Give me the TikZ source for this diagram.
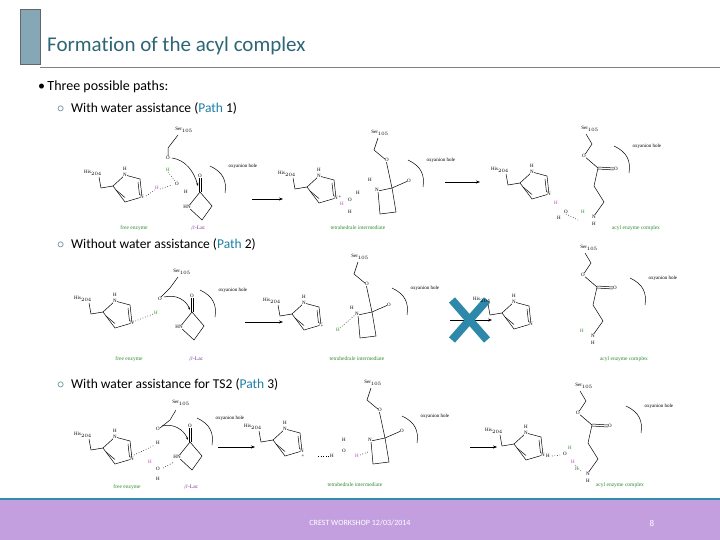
\documentclass[tikz,border=0pt]{standalone}
\usepackage{fontspec}
\setmainfont[Ligatures=NoCommon]{Carlito}
\newfontfamily\chem{Liberation Serif}
\usetikzlibrary{arrows.meta}
\definecolor{titlec}{HTML}{2E6676}
\definecolor{pathc}{HTML}{1F7FA6}
\definecolor{barc}{HTML}{86A8B6}
\definecolor{foot}{HTML}{C39FE0}
\definecolor{footline}{HTML}{2E8FA8}
\definecolor{grn}{HTML}{2E8B2E}
\definecolor{pur}{HTML}{7A2E9A}
\definecolor{pnk}{HTML}{C040C0}
\definecolor{xblue}{HTML}{2E88AA}
\tikzset{
 lbl/.style={font=\chem\fontsize{5}{5}\selectfont,inner sep=0.5pt,fill=white},
 captxt/.style={font=\chem\fontsize{5.5}{6}\selectfont,inner sep=0.5pt},
 bond/.style={line width=0.5pt},
 hb/.style={dotted,line width=0.6pt},
 rarrow/.style={-{Stealth[length=4pt]},line width=0.7pt},
 sub/.style={font=\fontsize{13.5}{15}\selectfont,anchor=base west,inner sep=0},
}
\newcommand\Imid[3]{%
 \begin{scope}[shift={(#1,#2)},bond]
 \draw (-14,-9)--(-12,2)--(0,0);
 \draw (0,0)--(12,-11)--(27,-7)--(29,11)--(12,16)--cycle;
 \draw (3,4)--(12,11.5);
 \draw (25,-4)--(26.5,9);
 \node[lbl,fill=none] at (-20,-13) {His$_{\scriptscriptstyle #3}$};
 \node[lbl] at (12,-11) {N};
 \node[lbl,fill=none] at (12,-17) {H};
 \node[lbl] at (29,11) {N};
 \end{scope}}
\newcommand\Lactam[2]{%
 \begin{scope}[shift={(#1,#2)},bond]
 \draw (0,0)--(12,14)--(2,28)--(-12,15)--cycle;
 \draw (-1,0)--(-1,-14) (1,0)--(1,-14);
 \node[lbl] at (0,-16) {O};
 \node[lbl] at (-13,15) {HN};
 \end{scope}}
\newcommand\Tetra[3]{%
 \begin{scope}[shift={(#1,#2)},bond]
 \draw (-14,-50)--(-18,-38)--(-6,-28)--(0,0);
 \draw (0,0)--(16,-7);
 \draw (0,0)--(4,24)--(-12,26)--(-14,3)--cycle;
 \node[lbl] at (-5,-28) {O};
 \node[lbl] at (17,-7) {O};
 \node[lbl] at (-15,2) {N};
 \node[lbl,fill=none] at (-12,-55) {Ser$_{\scriptscriptstyle #3}$};
 \end{scope}}
\newcommand\Acyl[3]{%
 \begin{scope}[shift={(#1,#2)},bond]
 \draw (-12,-38)--(-6,-28)--(-14,-16)--(0,-4);
 \draw (0,-5)--(16,-4) (0,-3)--(16,-2);
 \draw (0,-4)--(-4,14)--(6,30)--(-4,44);
 \node[lbl] at (-14,-16) {O};
 \node[lbl] at (18,-3) {O};
 \node[lbl] at (-4,45) {N};
 \node[lbl,fill=none] at (-4,52) {H};
 \node[lbl,fill=none,text=grn] at (-15,40) {H};
 \node[lbl,fill=none] at (-8,-43) {Ser$_{\scriptscriptstyle #3}$};
 \end{scope}}
\newcommand\Oxy[2]{%
 \draw[bond] (#1-10,#2-12) .. controls (#1+3,#2-6) and (#1+7,#2+3) .. (#1+5,#2+15);
 \node[lbl,fill=none,anchor=west] at (#1+8,#2-12) {oxyanion hole};}
\begin{document}
\begin{tikzpicture}[x=1pt,y=-1pt]
\useasboundingbox (0,0) rectangle (720,540);
\fill[white] (0,0) rectangle (720,540);
% header
\fill[barc,draw=black!60,line width=1pt] (20,10) rectangle (40,65);
\node[anchor=base west,text=titlec,font=\fontsize{21}{24}\selectfont,inner sep=0] (title) at (47,52) {Format\kern0pt ion of the acyl complex};
\draw[black!50,line width=0.8pt] (40,67)--(720,67);
\node[anchor=base west,font=\fontsize{14}{16}\selectfont,inner sep=0] (tp) at (38,91) {\textbullet\,Three possible paths:};
\node[sub] (p1) at (57,113) {\textcolor{titlec}{$\circ$}\enspace With water assistance (\textcolor{pathc}{Path} 1)};
\node[sub] (p2) at (57,248) {\textcolor{titlec}{$\circ$}\enspace Without water assistance (\textcolor{pathc}{Path} 2)};
\node[sub] (p3) at (57,388) {\textcolor{titlec}{$\circ$}\enspace With water assistance for TS2 (\textcolor{pathc}{Path} 3)};
% footer
\fill[foot] (0,500) rectangle (720,540);
\draw[footline,line width=2pt] (0,499)--(720,499);
\node[text=white,font=\fontsize{8}{9}\selectfont] (ft) at (360,523) {CREST WORKSHOP 12/03/2014};
\node[text=white,font=\fontsize{9}{10}\selectfont] (pg) at (652,523) {8};

% ===== Row 1 =====
\Imid{113}{186}{204}
\begin{scope}[bond]
\draw (178,135)--(168,148)--(168,157);
\node[lbl,fill=none] at (184,130) {Ser$_{\scriptscriptstyle 105}$};
\node[lbl] at (168,158) {O};
\node[lbl,text=grn] at (168,170) {H};
\node[lbl] at (177,184) {O};
\node[lbl] at (186,192) {H};
\node[lbl,text=pnk] at (157,188) {H};
\draw[hb] (168,172)--(176,182);
\draw[hb] (160,189)--(172,185);
\draw[hb] (146,196)--(155,190);
\draw[-{Stealth[length=3pt]}] (172,158) .. controls (186,160) and (194,172) .. (198,186);
\end{scope}
\Lactam{200}{192}
\Oxy{220}{178}
\node[captxt,text=grn] at (134,228) {free enzyme};
\node[captxt,text=pur] at (198,228) {$\beta$-Lac};
\draw[rarrow] (252,199)--(283,199);
\Imid{307}{187}{204}
\Tetra{392}{188}{105}
\node[lbl] at (340,197) {+};
\node[lbl,text=pnk] at (342,204) {H};
\node[lbl] at (350,200) {O};
\node[lbl] at (358,193) {H};
\node[lbl] at (350,212) {H};
\node[lbl] at (370,180) {H};
\Oxy{418}{172}
\node[captxt,text=grn] at (358,228) {tetrahedrale intermediate};
\draw[rarrow] (445,182)--(480,182);
\Imid{520}{183}{204}
\node[lbl,text=pnk] at (556,203) {H};
\node[lbl] at (566,212) {O};
\node[lbl] at (559,218) {H};
\draw[hb] (566,214)--(578,220);
\Acyl{598}{172}{105}
\Oxy{624}{158}
\node[captxt,text=grn] at (636,228) {acyl enzyme complex};

% ===== Row 2 =====
\Imid{103}{312}{204}
\begin{scope}[bond]
\draw (178,277)--(170,288)--(160,298);
\node[lbl,fill=none] at (182,272) {Ser$_{\scriptscriptstyle 105}$};
\node[lbl] at (160,299) {O};
\node[lbl,text=grn] at (156,313) {H};
\draw[hb] (133,322)--(153,314);
\draw[-{Stealth[length=3pt]}] (164,297) .. controls (176,294) and (186,300) .. (190,310);
\end{scope}
\Lactam{192}{312}
\Oxy{210}{302}
\node[captxt,text=grn] at (129,359) {free enzyme};
\node[captxt,text=pur] at (196,359) {$\beta$-Lac};
\draw[rarrow] (245,322)--(283,322);
\Imid{292}{314}{204}
\Tetra{372}{312}{105}
\node[lbl] at (322,326) {+};
\node[lbl,text=grn] at (338,330) {H};
\draw[hb] (340,328)--(355,315);
\node[lbl] at (352,308) {H};
\Oxy{402}{300}
\node[captxt,text=grn] at (357,359) {tetrahedrale intermediate};
\draw[rarrow] (450,320)--(492,320);
\draw[xblue,line width=8pt] (452,300)--(487,340) (487,300)--(452,340);
\Imid{502}{313}{204}
\Acyl{597}{291}{105}
\Oxy{640}{290}
\node[captxt,text=grn] at (624,359) {acyl enzyme complex};

% ===== Row 3 =====
\Imid{103}{448}{204}
\begin{scope}[bond]
\draw (176,410)--(170,420)--(160,428);
\node[lbl,fill=none] at (181,403) {Ser$_{\scriptscriptstyle 105}$};
\node[lbl] at (158,429) {O};
\node[lbl] at (158,443) {H};
\draw[hb] (134,455)--(155,445);
\node[lbl,text=pnk] at (150,462) {H};
\node[lbl] at (158,469) {O};
\node[lbl] at (158,479) {H};
\draw[hb] (163,468)--(174,462);
\draw[-{Stealth[length=3pt]}] (162,426) .. controls (174,423) and (184,430) .. (188,440);
\end{scope}
\Lactam{190}{442}
\Oxy{207}{430}
\node[captxt,text=grn] at (127,487) {free enzyme};
\node[captxt,text=pur] at (191,487) {$\beta$-Lac};
\draw[rarrow,line width=0.4pt] (218,447)--(255,447);
\Imid{273}{440}{204}
\node[lbl] at (303,456) {+};
\node[lbl] at (332,456) {H};
\draw[hb] (318,456)--(330,456);
\node[lbl] at (344,451) {O};
\node[lbl] at (344,440) {H};
\node[lbl,text=pnk] at (357,456) {H};
\draw[hb] (360,455)--(368,452);
\Tetra{385}{438}{105}
\Oxy{412}{428}
\node[captxt,text=grn] at (355,485) {tetrahedrale intermediate};
\draw[rarrow,line width=0.4pt] (470,447)--(497,447);
\Imid{514}{444}{204}
\node[lbl] at (548,456) {H};
\draw[hb] (552,456)--(560,455);
\node[lbl] at (565,454) {O};
\node[lbl,text=grn] at (570,448) {H};
\node[lbl,text=pnk] at (573,462) {H};
\draw[hb] (575,465)--(581,471);
\Acyl{592}{429}{105}
\Oxy{636}{418}
\node[captxt,text=grn] at (620,485) {acyl enzyme complex};
\end{tikzpicture}
\end{document}
